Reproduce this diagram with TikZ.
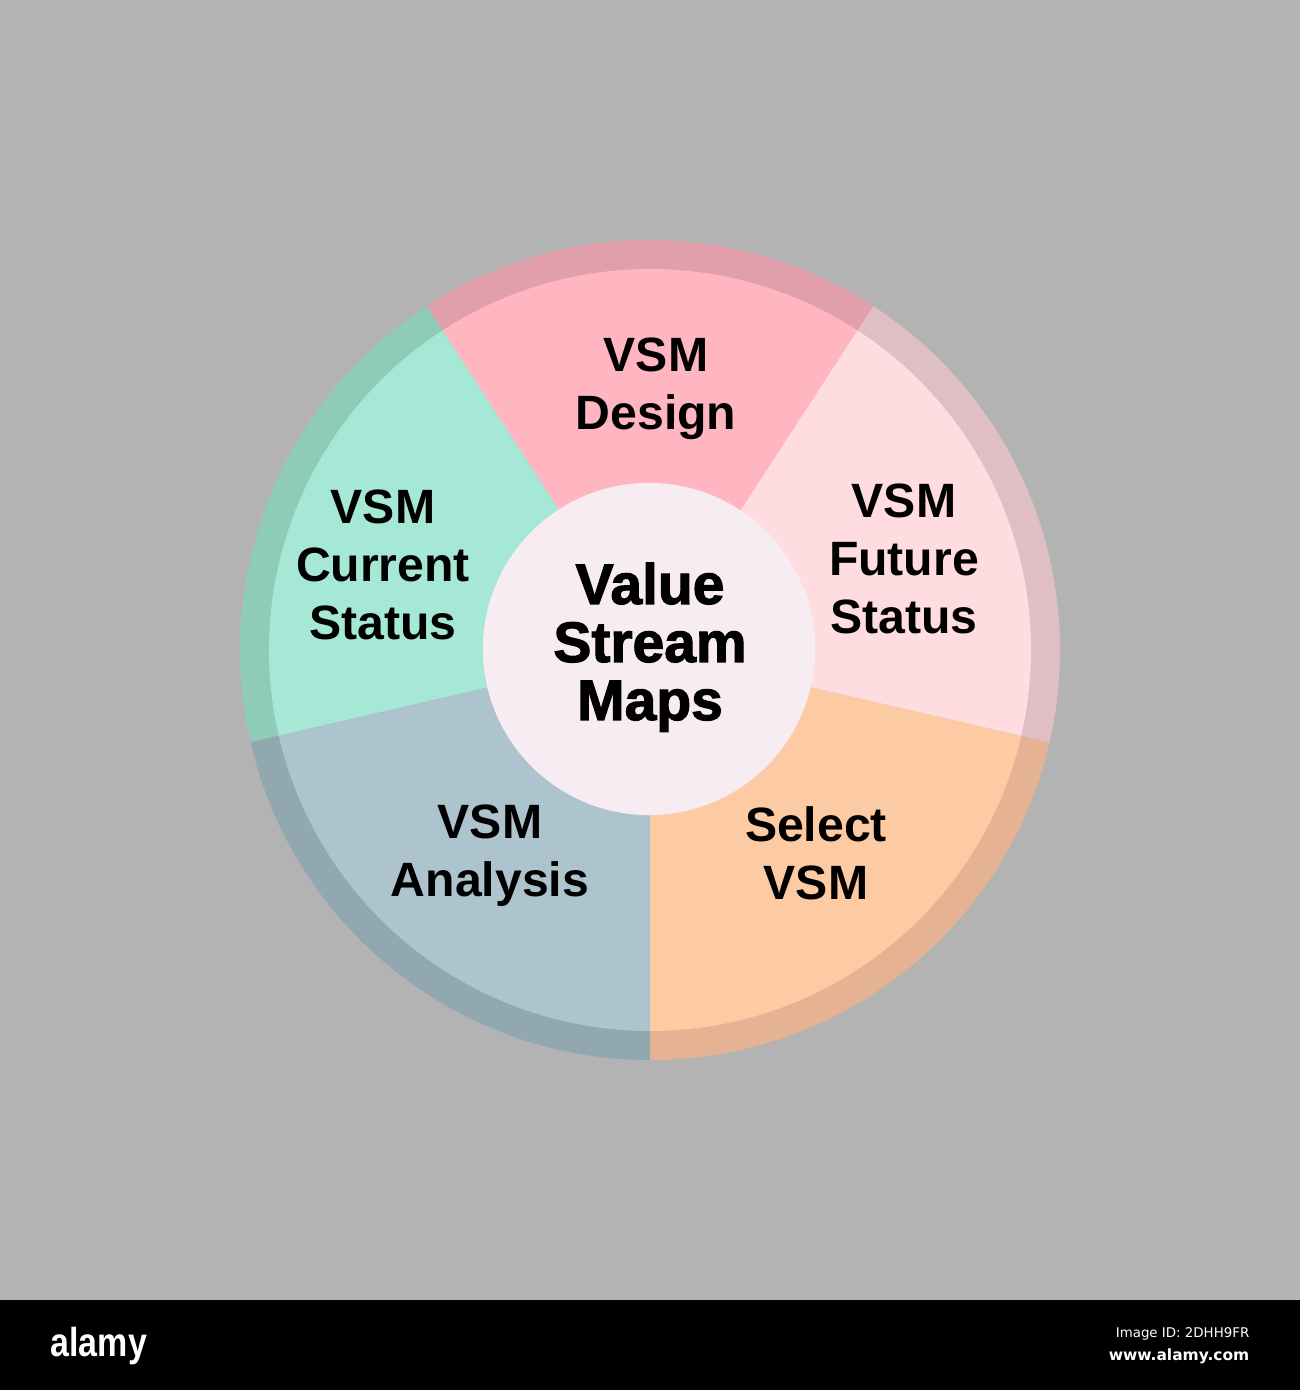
\documentclass[tikz,border=0pt]{standalone}
\usepackage{fontspec}
\setmainfont{Liberation Sans}
\newfontfamily\heavyfont{Liberation Sans}[BoldFeatures={FakeBold=2}]
\newfontfamily\barfont{DejaVu Sans}

\definecolor{backgray}{HTML}{B3B3B3}
\definecolor{designfill}{HTML}{FFB6C1}
\definecolor{designring}{HTML}{E09FAA}
\definecolor{futurefill}{HTML}{FFDCE0}
\definecolor{futurering}{HTML}{DFBEC4}
\definecolor{selectfill}{HTML}{FCCBA4}
\definecolor{selectring}{HTML}{E5B393}
\definecolor{analysisfill}{HTML}{ADC4CF}
\definecolor{analysisring}{HTML}{91A8B0}
\definecolor{currentfill}{HTML}{A6E8D6}
\definecolor{currentring}{HTML}{8ECCB8}
\definecolor{hubfill}{HTML}{F7ECF2}

\tikzset{
	label/.style  = {font=\fontsize{13.7}{16.5}\selectfont\bfseries, align=center,
		text=black, inner sep=0pt, anchor=base},
	hub/.style    = {circle, fill=hubfill, minimum size=3.32cm, inner sep=0pt},
	hubtext/.style = {font=\heavyfont\bfseries\fontsize{16.2}{16.5}\selectfont,
		align=center, text=black, inner sep=0pt, anchor=base}
}

\begin{document}
\begin{tikzpicture}[x=0.01cm, y=0.01cm]
	% background and bottom bar
	\fill[backgray] (0,0) rectangle (1300,1390);
	\fill[black] (0,0) rectangle (1300,90);
	\useasboundingbox (0,0) rectangle (1300,1390);

	% sectors: outer ring first, then the face
	\begin{scope}[shift={(650,740)}]
		\fill[designring]   (0,0) -- (57:410)  arc[start angle=57,  end angle=123, radius=410] -- cycle;
		\fill[currentring]  (0,0) -- (123:410) arc[start angle=123, end angle=193, radius=410] -- cycle;
		\fill[analysisring] (0,0) -- (193:410) arc[start angle=193, end angle=270, radius=410] -- cycle;
		\fill[selectring]   (0,0) -- (270:410) arc[start angle=270, end angle=347, radius=410] -- cycle;
		\fill[futurering]   (0,0) -- (347:410) arc[start angle=347, end angle=417, radius=410] -- cycle;

		\fill[designfill]   (0,0) -- (57:381)  arc[start angle=57,  end angle=123, radius=381] -- cycle;
		\fill[currentfill]  (0,0) -- (123:381) arc[start angle=123, end angle=193, radius=381] -- cycle;
		\fill[analysisfill] (0,0) -- (193:381) arc[start angle=193, end angle=270, radius=381] -- cycle;
		\fill[selectfill]   (0,0) -- (270:381) arc[start angle=270, end angle=347, radius=381] -- cycle;
		\fill[futurefill]   (0,0) -- (347:381) arc[start angle=347, end angle=417, radius=381] -- cycle;
	\end{scope}

	% centre circle
	\node[hub] (hub) at (649,741) {};
	\node[hubtext] (hubname) at (650,670) {Value\\Stream\\Maps};

	% segment labels (placed at the baseline of the last line)
	\node[label] (design)   at (656,960) {VSM\\Design};
	\node[label] (current)  at (383,750) {VSM\\Current\\Status};
	\node[label] (future)   at (904,756) {VSM\\Future\\Status};
	\node[label] (analysis) at (490,493) {VSM\\Analysis};
	\node[label] (select)   at (816,490) {Select\\VSM};

	% bottom bar texts
	\node[font=\fontsize{11.5}{12}\selectfont\bfseries, text=white, inner sep=0pt,
		anchor=base west, xscale=0.84, transform shape] (brand) at (50,33) {alamy};
	\node[font=\barfont\fontsize{3.8}{5}\selectfont, text=white, inner sep=0pt,
		anchor=base east] (imageid) at (1250,52) {Image ID: 2DHH9FR};
	\node[font=\barfont\bfseries\fontsize{4.4}{6}\selectfont, text=white, inner sep=0pt,
		anchor=base east] (site) at (1250,29) {www.alamy.com};
\end{tikzpicture}
\end{document}
